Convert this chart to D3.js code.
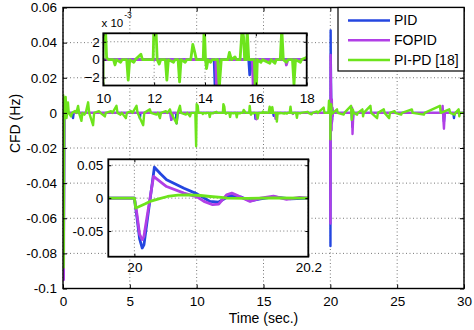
<!DOCTYPE html>
<html><head><meta charset="utf-8">
<script src="https://cdn.jsdelivr.net/npm/d3@7"></script>
<style>body{margin:0;background:#fff}svg{display:block;font-family:"Liberation Sans",Arial,sans-serif}</style>
</head><body><svg id="c" width="474" height="330"></svg>
<script>
// ---------- data ----------
const seriesNames = ["PID", "FOPID", "PI-PD [18]"];
const seriesColors = ["#2446e0", "#b13fe6", "#6de41c"];

const xTicksMain = [0, 5, 10, 15, 20, 25, 30];
const yTicksMain = [-0.1, -0.08, -0.06, -0.04, -0.02, 0, 0.02, 0.04, 0.06];
const yTickLabelsMain = ["-0.1", "-0.08", "-0.06", "-0.04", "-0.02", "0", "0.02", "0.04", "0.06"];

const xTicksInset1 = [10, 12, 14, 16, 18];
const yTicksInset1 = [-2, 0, 2];          // x 10^-3
const xTicksInset2 = [20, 20.2];
const xTickLabelsInset2 = ["20", "20.2"];
const xGridInset2 = [20, 20.07, 20.2];
const yTicksInset2 = [-0.05, 0, 0.05];
const yTickLabelsInset2 = ["-0.05", "0", "0.05"];

// time (s), CFD (Hz)
const pidData = [[0,0],[0.03,0.008],[0.05,-0.09],[0.1,0],[0.7,0],[0.75,-0.003],[0.8,0],[5.7,0],[5.75,-0.003],[5.8,0],
[8.05,0],[8.1,-0.004],[8.2,0],[8.45,0],[8.5,-0.006],[8.58,0],[14.36,0],[14.4,-0.0034],[14.48,0],[15.72,0],[15.76,-0.0017],[15.85,0],
[20.0,0],[20.003,-0.03],[20.006,-0.062],[20.009,-0.0758],[20.011,-0.071],[20.023,0.047],[20.03,0.037],[20.037,0.028],[20.057,0.015],
[20.072,0.0065],[20.087,-0.005],[20.097,-0.006],[20.11,0.004],[20.122,0.002],[20.133,-0.004],[20.145,-0.001],[20.16,0.002],[20.18,-0.001],[20.2,0],
[21.6,0],[21.65,-0.008],[21.72,0],[28.45,0],[28.5,-0.005],[28.56,0],[29.2,0],[29.25,-0.003],[29.3,0],[30,0]];

const fopidData = [[0,0],[0.03,0.006],[0.06,-0.095],[0.1,0],[1.08,0],[1.13,0.002],[1.2,0],[8.05,0],[8.1,-0.004],[8.2,0],
[14.42,0],[14.46,-0.0036],[14.54,0],[15.86,0],[15.9,-0.0034],[15.96,0],[17.17,0],[17.2,-0.0006],[17.26,0],
[20.0,0],[20.003,-0.025],[20.006,-0.055],[20.009,-0.063],[20.011,-0.058],[20.022,0.033],[20.037,0.0176],[20.057,0.0076],[20.072,0.002],
[20.08,-0.005],[20.09,-0.01],[20.097,-0.009],[20.106,0.005],[20.112,0.0076],[20.12,0.003],[20.133,-0.005],[20.145,0],[20.16,0.003],[20.175,-0.002],[20.19,0.001],[20.2,0],
[21.58,0],[21.62,0.003],[21.66,-0.012],[21.72,0],[28.35,0],[28.4,0.004],[28.5,-0.009],[28.56,0],[30,0]];

const pipdData = [[0,0],[0.02,0.010],[0.05,-0.088],[0.09,0.003],[0.14,-0.002],[0.2,0.009],[0.26,-0.003],[0.31,0],[0.37,0.006],[0.43,0],
[0.6,-0.002],[0.68,0],[0.9,0.001],[1.0,0],[1.13,0.004],[1.2,0],[1.38,-0.0045],[1.45,0],[1.6,-0.001],[1.7,0],[1.88,0.006],[1.96,0],
[2.25,-0.007],[2.33,0],[2.7,0.001],[2.8,0],[3.13,-0.002],[3.2,0],[3.6,0.001],[3.7,0],[4.0,0.004],[4.08,0],[4.3,-0.001],[4.4,0],
[4.7,-0.003],[4.78,0],[5.1,0.001],[5.2,0],[5.5,0.004],[5.58,0],[6.0,-0.007],[6.08,0],[6.5,0.002],[6.58,0],[7.0,-0.001],[7.1,0],
[7.25,-0.003],[7.33,0],[7.7,0.001],[7.8,0],[8.0,0.002],[8.08,0],[8.5,-0.006],[8.58,0],[8.75,0.004],[8.83,0],[9.2,-0.001],[9.3,0],
[9.5,-0.002],[9.58,0],[9.9,0],[9.96,-0.019],[10.0,0.005],[10.08,0.004],[10.13,0.0002],[10.2,0],
[10.4,0],[10.46,-0.0006],[10.52,0],[10.68,-0.0003],[10.74,0],[10.92,0],[10.98,-0.0023],[11.04,0],[11.2,-0.0003],[11.26,0],
[11.48,0.0006],[11.54,0],[11.96,0],[12.0,0.005],[12.07,0.0035],[12.12,0],[12.2,-0.0005],[12.26,0],[12.44,0],[12.5,-0.0023],[12.56,0],
[12.76,-0.0003],[12.82,0],[12.94,0],[13.0,-0.0025],[13.06,0],[13.22,-0.0003],[13.28,0],[13.44,0],[13.52,0.0017],[13.6,0.0008],[13.66,0],
[13.93,0],[13.97,0.004],[14.02,0],[14.06,-0.001],[14.12,0],[14.22,-0.0003],[14.28,0],[14.5,0],[14.56,-0.0032],[14.64,0],
[14.9,0],[14.96,0.0008],[15.04,0],[15.18,0.0003],[15.24,0],[15.38,0],[15.46,0.0035],[15.52,0.0025],[15.56,0],[15.62,0],[15.66,0.0033],[15.72,0],
[15.94,0],[16.0,-0.005],[16.06,0],[16.2,-0.0003],[16.26,0],[16.55,-0.0004],[16.6,0],[16.75,-0.0004],[16.8,0],
[16.96,0],[17.02,0.0035],[17.08,0],[17.2,-0.0003],[17.26,0],[17.44,0],[17.5,-0.0028],[17.56,0],[17.75,-0.0003],[17.8,0],
[18.3,0.0006],[18.36,0],[18.6,-0.0008],[18.66,0],[19.0,0.0008],[19.06,0],[19.5,0.003],[19.56,0],[19.85,0],[19.9,0.007],[19.95,0],
[20.0,0],[20.0015,-0.015],[20.005,-0.013],[20.012,-0.009],[20.018,-0.005],[20.028,-0.001],[20.038,0.0025],[20.05,0.0045],[20.062,0.005],
[20.076,0.004],[20.087,0.0025],[20.1,0.001],[20.107,0],[20.13,-0.0005],[20.16,0.0003],[20.2,0],
[20.5,0.002],[20.55,0],[21.0,-0.001],[21.05,0],[21.55,0.004],[21.6,-0.004],[21.68,0.002],[21.75,0],[22.0,-0.001],[22.05,0],
[22.4,0.002],[22.45,-0.002],[22.5,0],[23.0,0.004],[23.06,0],[23.5,-0.003],[23.56,0],[24.0,0.002],[24.06,0],[24.4,-0.003],[24.46,0],
[24.8,0.001],[24.86,0],[25.3,-0.001],[25.36,0],[26.1,0.002],[26.16,0],[27.0,-0.001],[27.06,0],[28.2,0.004],[28.26,0],
[28.9,0.002],[28.96,0],[29.3,-0.001],[29.36,0],[29.6,0.002],[29.65,-0.002],[29.7,0],[30,0]];

const allSeries = [pidData, fopidData, pipdData];

// ---------- drawing ----------
const svg = d3.select("#c");
const FS = 13.5;

function panel(cfg) {
  const g = svg.append("g");
  const x = d3.scaleLinear().domain(cfg.xd).range([cfg.l, cfg.r]);
  const y = d3.scaleLinear().domain(cfg.yd).range([cfg.b, cfg.t]);
  g.append("rect").attr("x", cfg.l).attr("y", cfg.t).attr("width", cfg.r - cfg.l).attr("height", cfg.b - cfg.t).attr("fill", "#fff");
  const id = "clip" + cfg.name;
  svg.append("clipPath").attr("id", id).append("rect")
    .attr("x", cfg.l).attr("y", cfg.t).attr("width", cfg.r - cfg.l).attr("height", cfg.b - cfg.t);
  // grid
  const grid = g.append("g").attr("stroke", "#777").attr("stroke-width", 1).attr("stroke-dasharray", "1,2.5");
  (cfg.xgrid || cfg.xt).forEach(v => grid.append("line").attr("x1", x(v)).attr("x2", x(v)).attr("y1", cfg.t).attr("y2", cfg.b));
  cfg.yt.forEach(v => grid.append("line").attr("y1", y(v * cfg.ys)).attr("y2", y(v * cfg.ys)).attr("x1", cfg.l).attr("x2", cfg.r));
  // lines
  const line = d3.line().x(d => x(d[0])).y(d => y(d[1] * cfg.vs));
  const lg = g.append("g").attr("clip-path", `url(#${id})`);
  allSeries.forEach((s, i) => {
    const pts = s.filter((d, k) => {
      const prev = s[k - 1], next = s[k + 1];
      return (d[0] >= cfg.xd[0] && d[0] <= cfg.xd[1]) ||
        (next && next[0] >= cfg.xd[0] && d[0] < cfg.xd[0]) ||
        (prev && prev[0] <= cfg.xd[1] && d[0] > cfg.xd[1]);
    });
    lg.append("path").datum(pts).attr("d", line).attr("fill", "none")
      .attr("stroke", seriesColors[i]).attr("stroke-width", cfg.lw).attr("stroke-linejoin", "round");
  });
  // axes
  const tk = cfg.tick;
  const bx = d3.axisBottom(x).tickValues(cfg.xt).tickSizeInner(-tk).tickSizeOuter(0).tickPadding(cfg.xpad)
    .tickFormat((d, i) => cfg.xl ? cfg.xl[i] : d3.format("~g")(d));
  const ly = d3.axisLeft(y).tickValues(cfg.yt.map(v => v * cfg.ys)).tickSizeInner(-tk).tickSizeOuter(0).tickPadding(cfg.ypad)
    .tickFormat((d, i) => cfg.yl ? cfg.yl[i] : d3.format("~g")(cfg.yt[i]));
  const tx = d3.axisTop(x).tickValues(cfg.xt).tickSizeInner(-tk).tickSizeOuter(0).tickFormat("");
  const ry = d3.axisRight(y).tickValues(cfg.yt.map(v => v * cfg.ys)).tickSizeInner(-tk).tickSizeOuter(0).tickFormat("");
  [[bx, `translate(0,${cfg.b})`], [ly, `translate(${cfg.l},0)`], [tx, `translate(0,${cfg.t})`], [ry, `translate(${cfg.r},0)`]]
    .forEach(([a, tr]) => {
      const ag = g.append("g").attr("transform", tr).call(a);
      ag.select(".domain").remove();
      ag.selectAll("line").attr("stroke", "#000").attr("stroke-width", 1);
      ag.selectAll("text").attr("fill", "#000").style("font-size", FS + "px").style("font-family", '"Liberation Sans",Arial,sans-serif');
    });
  g.append("rect").attr("x", cfg.l).attr("y", cfg.t).attr("width", cfg.r - cfg.l).attr("height", cfg.b - cfg.t)
    .attr("fill", "none").attr("stroke", "#000").attr("stroke-width", cfg.bw);
  return { g, x, y };
}

// main
panel({ name: "main", l: 63, r: 464, t: 7.5, b: 288.5, xd: [0, 30], yd: [-0.1, 0.06],
  xt: xTicksMain, yt: yTicksMain, yl: yTickLabelsMain, ys: 1, vs: 1, lw: 2.4, tick: 4, xpad: 8, ypad: 6, bw: 1.4 });

// inset 1 (10-18 s, x10^-3)
panel({ name: "in1", l: 103.3, r: 306.7, t: 33.3, b: 85.5, xd: [10, 18], yd: [-2.9, 2.95],
  xt: xTicksInset1, yt: yTicksInset1, ys: 1, vs: 1000, lw: 2.8, tick: 3, xpad: 7.5, ypad: 3.5, bw: 1.8 });
svg.append("text").attr("x", 101.5).attr("y", 27).style("font-size", "11.5px").attr("fill", "#000")
  .text("x 10").append("tspan").attr("dx", 1).attr("dy", -9).style("font-size", "8.5px").text("-3");

// inset 2 (19.97-20.2 s)
panel({ name: "in2", l: 108.3, r: 308.3, t: 159.3, b: 256.7, xd: [19.97, 20.2], yd: [-0.089, 0.059],
  xt: xTicksInset2, xl: xTickLabelsInset2, xgrid: xGridInset2, yt: yTicksInset2, yl: yTickLabelsInset2, ys: 1, vs: 1,
  lw: 2.8, tick: 3, xpad: 6, ypad: 5, bw: 1.8 });

// axis labels
svg.append("text").attr("x", 263.5).attr("y", 318.5).attr("dy", "0.35em").attr("text-anchor", "middle")
  .style("font-size", "14px").text("Time (sec.)");
svg.append("text").attr("transform", "translate(15.5,123.5) rotate(-90)").attr("dy", "0.35em").attr("text-anchor", "middle")
  .style("font-size", "14px").text("CFD (Hz)");

// legend
const leg = svg.append("g");
leg.append("rect").attr("x", 338).attr("y", 7.5).attr("width", 126).attr("height", 63.5)
  .attr("fill", "#fff").attr("stroke", "#000").attr("stroke-width", 1.2);
const legY = d3.scalePoint().domain(seriesNames).range([20.5, 60]);
seriesNames.forEach((n, i) => {
  leg.append("line").attr("x1", 348).attr("x2", 390).attr("y1", legY(n)).attr("y2", legY(n))
    .attr("stroke", seriesColors[i]).attr("stroke-width", 2.5);
  leg.append("text").attr("x", 394).attr("y", legY(n)).attr("dy", "0.35em").style("font-size", "14px").text(n);
});
</script></body></html>
